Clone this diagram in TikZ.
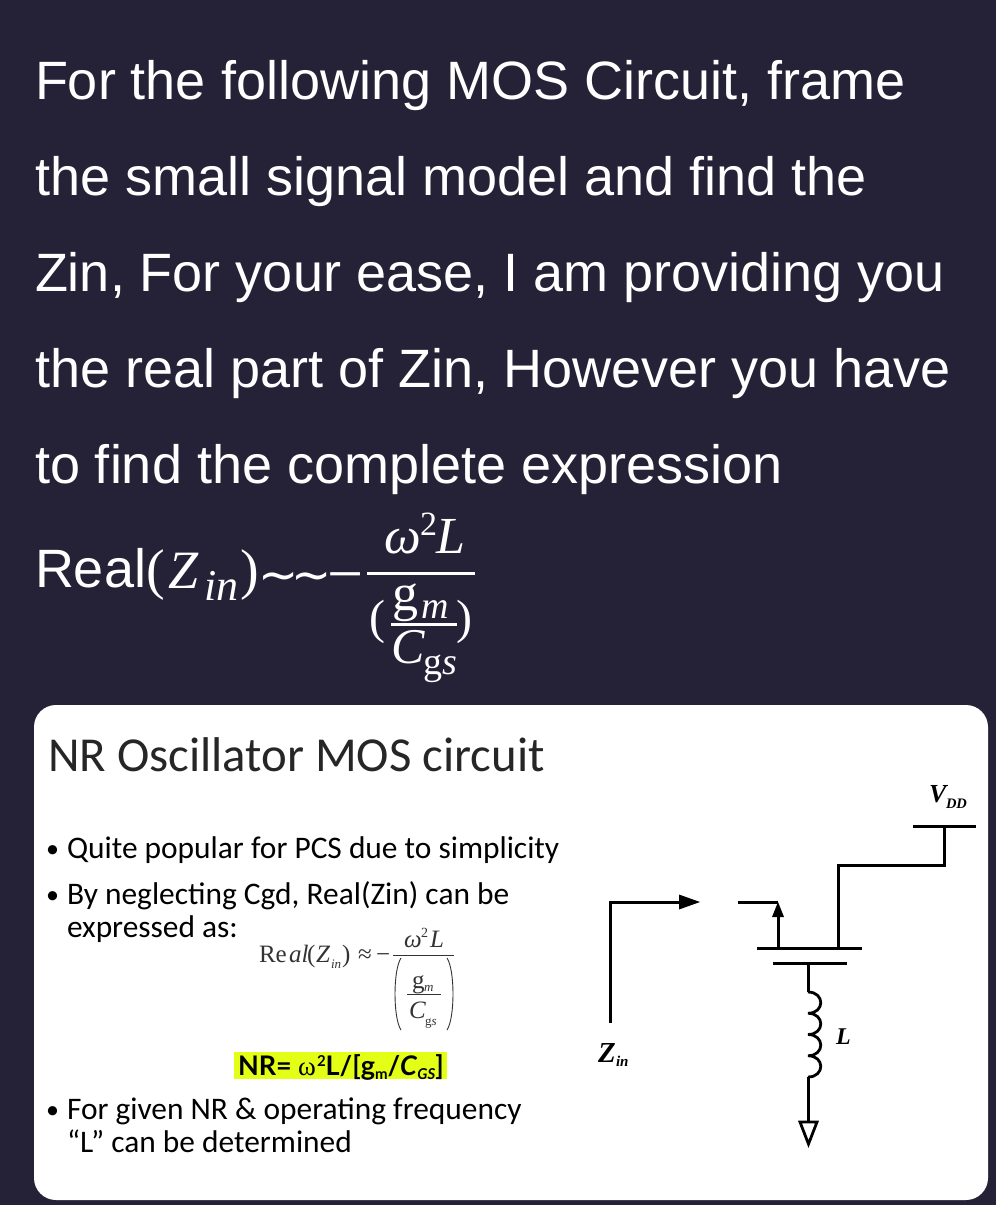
\documentclass[tikz,border=0pt]{standalone}
\usepackage{fontspec}
\setmainfont{Liberation Sans}
\newfontfamily\slidef{Carlito}
\newfontfamily\serif{Liberation Serif}
\newfontfamily\nrf{Lato}
\newfontfamily\dejavu{DejaVu Sans}
\definecolor{bgdark}{HTML}{252238}
\definecolor{hl}{HTML}{E4FF16}
\definecolor{inkgray}{HTML}{333333}
\definecolor{titleink}{HTML}{262626}
\tikzset{
  txt/.style={anchor=base west,inner sep=0pt,outer sep=0pt},
  headline/.style={txt,text=white,font=\fontsize{54}{54}\selectfont},
  mathw/.style={txt,text=white,font=\serif\itshape\fontsize{#1}{#1}\selectfont},
  mathu/.style={txt,text=white,font=\serif\fontsize{#1}{#1}\selectfont},
  slidetxt/.style={txt,text=black,font=\slidef\fontsize{#1}{#1}\selectfont},
  smallm/.style={txt,text=inkgray,font=\serif\itshape\fontsize{#1}{#1}\selectfont},
  smallu/.style={txt,text=inkgray,font=\serif\fontsize{#1}{#1}\selectfont},
  circ/.style={txt,text=black,font=\serif\bfseries\itshape\fontsize{#1}{#1}\selectfont},
  wire/.style={draw=black,line width=3pt,line join=miter},
}
\begin{document}
\begin{tikzpicture}[x=1pt,y=-1pt]
\useasboundingbox (0,0) rectangle (996,1205);
\fill[bgdark] (0,0) rectangle (996,1205);
% question text
\node[headline] (q1) at (35,99) {For the following MOS Circuit, frame};
\node[headline] (q2) at (35,195) {the small signal model and find the};
\node[headline] (q3) at (35,291) {Zin, For your ease, I am providing you};
\node[headline] (q4) at (35,387) {the real part of Zin, However you have};
\node[headline] (q5) at (35,483) {to find the complete expression};
\node[headline] (re) at (35,587) {Real};
\node[mathu=56] (lp) at (146,588) {(};
\node[mathw=54] (z) at (168,588) {Z};
\node[mathw=44] (in) at (204,600) {in};
\node[mathu=56] (rp) at (240,588) {)};
\node[txt,text=white,font=\dejavu\fontsize{48}{48}\selectfont] (tl) at (258,591) {\char"223C\kern-7pt\char"223C};
\node[mathu=64] (mn) at (327,595) {−};
\node[mathw=52] (w) at (384,553) {ω};
\node[mathu=34] (two) at (420,535) {2};
\node[mathw=52] (ll) at (436,553) {L};
\fill[white] (367,571.5) rectangle (475,574.5);
\node[mathu=48] (lp2) at (369,633) {(};
\node[mathu=52] (g) at (392,610) {g};
\node[mathw=38] (m) at (421,618) {m};
\fill[white] (391,622.5) rectangle (457,625.5);
\node[mathu=48] (rp2) at (456,633) {)};
\node[mathw=50] (c) at (391,663) {C};
\node[mathu=38] (gs) at (423,674) {g\textit{s}};
% slide panel
\fill[white,rounded corners=22pt] (34,705) rectangle (988,1200);
\node[txt,text=titleink,font=\slidef\fontsize{48.8}{48.8}\selectfont] (title) at (48,771) {NR Oscillator MOS circuit};
\node[slidetxt=26] (b1) at (46,857) {•};
\node[slidetxt=31.4] (t1) at (67,858) {Quite popular for PCS due to simplicity};
\node[slidetxt=26] (b2) at (46,903) {•};
\node[slidetxt=31.4] (t2) at (67,904) {By neglecting Cgd, Real(Zin) can be};
\node[slidetxt=31.4] (t3) at (67,937) {expressed as:};
\node[slidetxt=26] (b3) at (46,1118) {•};
\node[slidetxt=31.4] (t4) at (67,1119) {For given NR \& operating frequency};
\node[slidetxt=31.4] (t5) at (67,1152) {“L” can be determined};
% small formula
\node[smallu=25] (sre) at (259,962) {Re};
\node[smallm=25] (sal) at (289,962) {al};
\node[smallu=25] (slp) at (307,962) {(};
\node[smallm=25] (sz) at (316,962) {Z};
\node[smallm=13] (sin) at (331,968) {in};
\node[smallu=25] (srp) at (342,962) {)};
\node[smallu=25] (sap) at (358,962) {≈};
\node[smallu=25] (smn) at (376,962) {−};
\node[smallm=25] (sw) at (404,947) {ω};
\node[smallu=14] (stw) at (421,937) {2};
\node[smallm=25] (sl) at (430,947) {L};
\draw[inkgray,line width=0.9pt] (393,955) -- (454,955);
\node[smallu=25] (sg) at (412,988) {g};
\node[smallm=13] (sm) at (424,991) {m};
\draw[inkgray,line width=0.9pt] (407,994) -- (441,994);
\node[smallm=25] (sc) at (409,1018) {C};
\node[smallu=13] (sgs) at (425,1025) {g\textit{s}};
\draw[inkgray,line width=0.9pt] (401,958) .. controls (393,970) and (393,1018) .. (401,1030);
\draw[inkgray,line width=0.9pt] (447,958) .. controls (455,970) and (455,1018) .. (447,1030);
% highlighted formula
\fill[hl] (234,1052) rectangle (447,1079);
\node[txt,text=black,font=\nrf\bfseries\fontsize{27}{27}\selectfont] (nr) at (238,1075) {NR=};
\node[txt,text=black,font=\serif\fontsize{27}{27}\selectfont] (nw) at (298,1075) {ω};
\node[txt,text=black,font=\nrf\bfseries\fontsize{27}{27}\selectfont] (nr2) at (317,1075) {\raisebox{9pt}{\fontsize{15}{15}\selectfont 2}L/[g\raisebox{-4pt}{\fontsize{15}{15}\selectfont m}/\textit{C}\raisebox{-4pt}{\fontsize{15}{15}\selectfont\textit{GS}}]};
% circuit
\coordinate (zs) at (610,1023);
\coordinate (zc) at (610,902);
\coordinate (zt) at (700,902);
\draw[wire] (zs) -- (zc) -- (679,902);
\fill[black] (zt) -- (679,894.5) -- (679,909.5) -- cycle;
\coordinate (src0) at (738,902);
\coordinate (src1) at (778,902);
\coordinate (src2) at (778,948);
\coordinate (arrh) at (778,913);
\draw[wire] (src0) -- (src1);
\draw[wire] (src2) -- (arrh);
\fill[black] (src1) -- (772,917) -- (784,917) -- cycle;
\coordinate (ch0) at (757,948);
\coordinate (ch1) at (862,948);
\draw[wire] (ch0) -- (ch1);
\coordinate (g0) at (773,963);
\coordinate (g1) at (847,963);
\draw[wire] (g0) -- (g1);
\coordinate (d0) at (838,948);
\coordinate (d1) at (838,865);
\coordinate (d2) at (944,865);
\coordinate (d3) at (944,826);
\draw[wire] (d0) -- (d1) -- (d2) -- (d3);
\coordinate (v0) at (913,826);
\coordinate (v1) at (976,826);
\draw[wire] (v0) -- (v1);
\coordinate (gm) at (808,963);
\coordinate (l0) at (808,992);
\coordinate (l1) at (808,1077);
\coordinate (gnd) at (808,1122);
\draw[wire] (gm) -- (l0);
\draw[wire] (l1) -- (gnd);
\draw[black,line width=2.8pt] (l0)
  .. controls (825,992) and (825,1013.25) .. (808,1013.25)
  .. controls (825,1013.25) and (825,1034.5) .. (808,1034.5)
  .. controls (825,1034.5) and (825,1055.75) .. (808,1055.75)
  .. controls (825,1055.75) and (825,1077) .. (l1);
\draw[black,line width=2.8pt,line join=miter] (800,1122) -- (817,1122) -- (808.5,1144) -- cycle;
\node[circ=26] (vl) at (929,802) {V};
\node[circ=14.5] (vs) at (946,808) {DD};
\node[circ=24] (ll2) at (836,1044) {L};
\node[circ=29] (zl) at (598,1062) {Z};
\node[circ=15] (zi) at (616,1066) {in};
\end{tikzpicture}
\end{document}
